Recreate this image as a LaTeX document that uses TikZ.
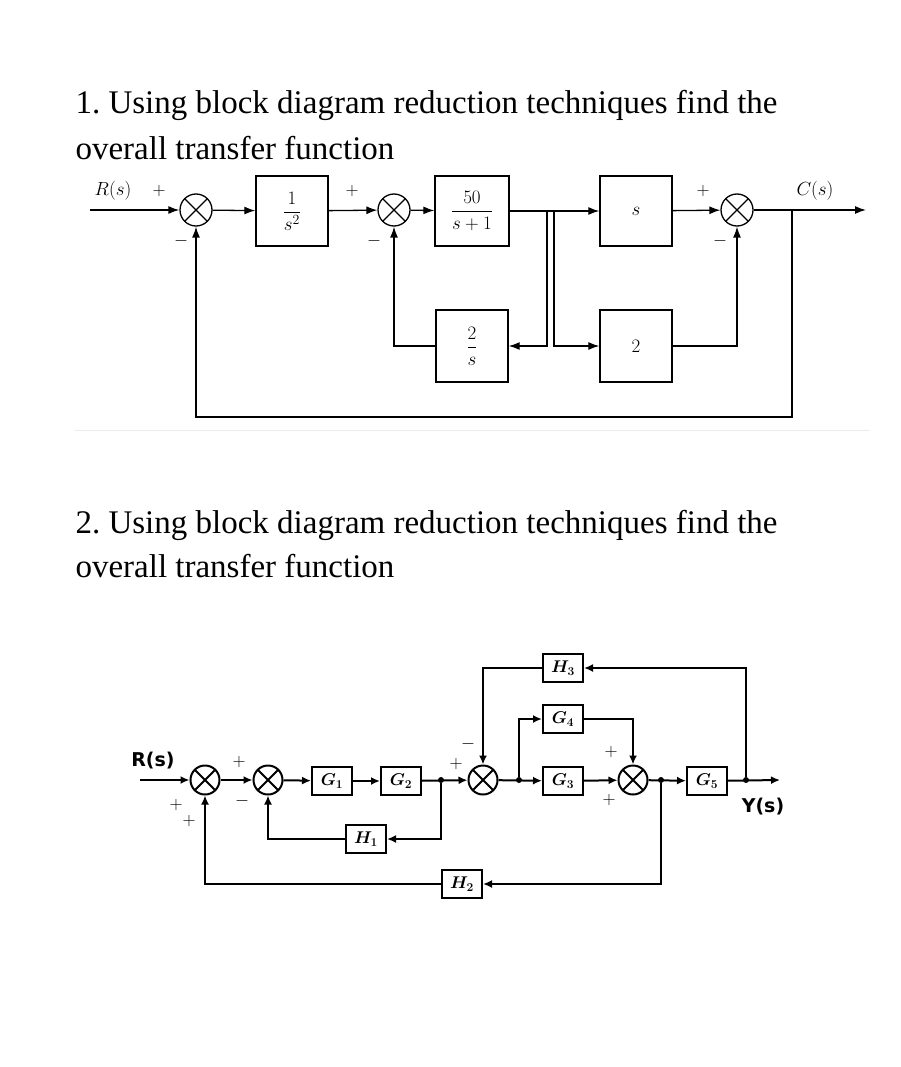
\RequirePackage{fix-cm}
\documentclass[tikz,border=0pt]{standalone}
\usepackage{amsmath,bm}
\usepackage{fontspec}
\setmainfont{Liberation Serif}
\newfontfamily\dvs{DejaVu Sans}
\usetikzlibrary{arrows.meta}
\DeclareMathSizes{19}{19}{14}{11}
\DeclareMathSizes{17}{17}{12}{10}
\DeclareMathSizes{18}{18}{13}{10}
\frenchspacing
\begin{document}
\begin{tikzpicture}[x=1pt,y=-1pt,
  sum/.style={circle,draw,minimum size=#1,inner sep=0pt,
    path picture={\draw (path picture bounding box.north west)--(path picture bounding box.south east)
      (path picture bounding box.north east)--(path picture bounding box.south west);}},
  blk/.style={draw,line width=1.4pt,inner sep=0pt},
  top/.style={line width=1.3pt,-{Latex[length=11pt,width=8pt]}},
  bt/.style={line width=2pt,-{Latex[length=9pt,width=8pt]}},
  bb/.style={draw,line width=2pt,inner sep=0pt,minimum width=40pt,minimum height=28pt,font=\fontsize{17}{17}\selectfont},
  dot/.style={circle,fill,inner sep=0pt,minimum size=6pt},
  title/.style={anchor=west,font=\fontsize{33}{33}\selectfont},
  sg/.style={font=\fontsize{18}{18}\selectfont}]
\useasboundingbox (0,0) rectangle (900,1067);
\fill[white] (0,0) rectangle (900,1067);
% titles
\node[title] (t1a) at (72,105) {1. Using block diagram reduction techniques find the};
\node[title] (t1b) at (72,148) {overall transfer function};
\node[title] (t2a) at (72,525) {2. Using block diagram reduction techniques find the};
\node[title] (t2b) at (72,566) {overall transfer function};
\draw[black!8,line width=1pt] (75,430)--(870,430);
% ---------- diagram 1 ----------
\begin{scope}[font=\fontsize{19}{19}\selectfont]
\coordinate (in1) at (90,210);
\node[sum=32pt,line width=1.3pt] (s1) at (196,210) {};
\node[blk,minimum width=72pt,minimum height=70pt] (b1) at (292,211) {$\dfrac{1}{s^2}$};
\node[sum=32pt,line width=1.3pt] (s2) at (394,210) {};
\node[blk,minimum width=74pt,minimum height=70pt] (b2) at (472,211) {$\dfrac{50}{s+1}$};
\node[blk,minimum width=72pt,minimum height=70pt] (b3) at (636,211) {$s$};
\node[sum=32pt,line width=1.3pt] (s3) at (737,210) {};
\node[blk,minimum width=72pt,minimum height=72pt] (b4) at (472,346) {$\dfrac{2}{s}$};
\node[blk,minimum width=72pt,minimum height=72pt] (b5) at (636,346) {$2$};
\coordinate (out1) at (866,210);
\coordinate (p1) at (547,210);
\coordinate (p2) at (554,210);
\coordinate (tap) at (792,210);
\node (R1) at (113,191) {$R(s)$};
\node (C1) at (815,191) {$C(s)$};
\node[sg] (a1) at (159,191) {$+$};
\node[sg] (a2) at (181,241) {$-$};
\node[sg] (a3) at (352,191) {$+$};
\node[sg] (a4) at (374,241) {$-$};
\node[sg] (a5) at (703,191) {$+$};
\node[sg] (a6) at (720,241) {$-$};
\end{scope}
\draw[top] (in1)--(s1);
\draw[top] (s1)--(b1);
\draw[top] (b1)--(s2);
\draw[top] (s2)--(b2);
\draw[top] (b2)--(b3);
\draw[top] (b3)--(s3);
\draw[top] (s3)--(out1);
\draw[top] (p1)|-(b4.east);
\draw[top] (b4.west)-|(s2.south);
\draw[top] (p2)|-(b5.west);
\draw[top] (b5.east)-|(s3.south);
\draw[top] (tap)|-(196,417)--(s1.south);
% ---------- diagram 2 ----------
\node[sum=29pt,line width=2pt] (A) at (205,780) {};
\node[sum=29pt,line width=2pt] (B) at (268,780) {};
\node[bb] (G1) at (332,781) {$\bm{G_1}$};
\node[bb] (G2) at (401,781) {$\bm{G_2}$};
\node[dot] (d1) at (441,780) {};
\node[sum=29pt,line width=2pt] (C) at (483,780) {};
\node[dot] (d2) at (519,780) {};
\node[bb] (G3) at (563,781) {$\bm{G_3}$};
\node[sum=29pt,line width=2pt] (D) at (633,780) {};
\node[dot] (d3) at (661,780) {};
\node[bb] (G5) at (707,781) {$\bm{G_5}$};
\node[dot] (d4) at (746,780) {};
\coordinate (in2) at (140,780);
\coordinate (out2) at (780,780);
\node[bb] (H3) at (563,668) {$\bm{H_3}$};
\node[bb] (G4) at (563,719) {$\bm{G_4}$};
\node[bb] (H1) at (366,839) {$\bm{H_1}$};
\node[bb] (H2) at (462,884) {$\bm{H_2}$};
\begin{scope}[font=\fontsize{19}{19}\selectfont\dvs\bfseries]
\node (R2) at (153,761) {R(s)};
\node (Y2) at (763,807) {Y(s)};
\end{scope}
\node[sg] (c1) at (176,805) {$+$};
\node[sg] (c2) at (189,821) {$+$};
\node[sg] (c3) at (239,762) {$+$};
\node[sg] (c4) at (242,801) {$-$};
\node[sg] (c5) at (456,764) {$+$};
\node[sg] (c6) at (468,744) {$-$};
\node[sg] (c7) at (611,752) {$+$};
\node[sg] (c8) at (609,800) {$+$};
\draw[bt] (in2)--(A);
\draw[bt] (A)--(B);
\draw[bt] (B)--(G1);
\draw[bt] (G1)--(G2);
\draw[bt] (G2)--(C);
\draw[bt] (C)--(G3);
\draw[bt] (G3)--(D);
\draw[bt] (D)--(G5);
\draw[bt] (G5)--(out2);
\draw[bt] (d1)|-(H1.east);
\draw[bt] (H1.west)-|(B.south);
\draw[bt] (d3)|-(H2.east);
\draw[bt] (H2.west)-|(A.south);
\draw[bt] (d4)|-(H3.east);
\draw[bt] (H3.west)-|(C.north);
\draw[bt] (d2)|-(G4.west);
\draw[bt] (G4.east)-|(D.north);
\end{tikzpicture}
\end{document}
